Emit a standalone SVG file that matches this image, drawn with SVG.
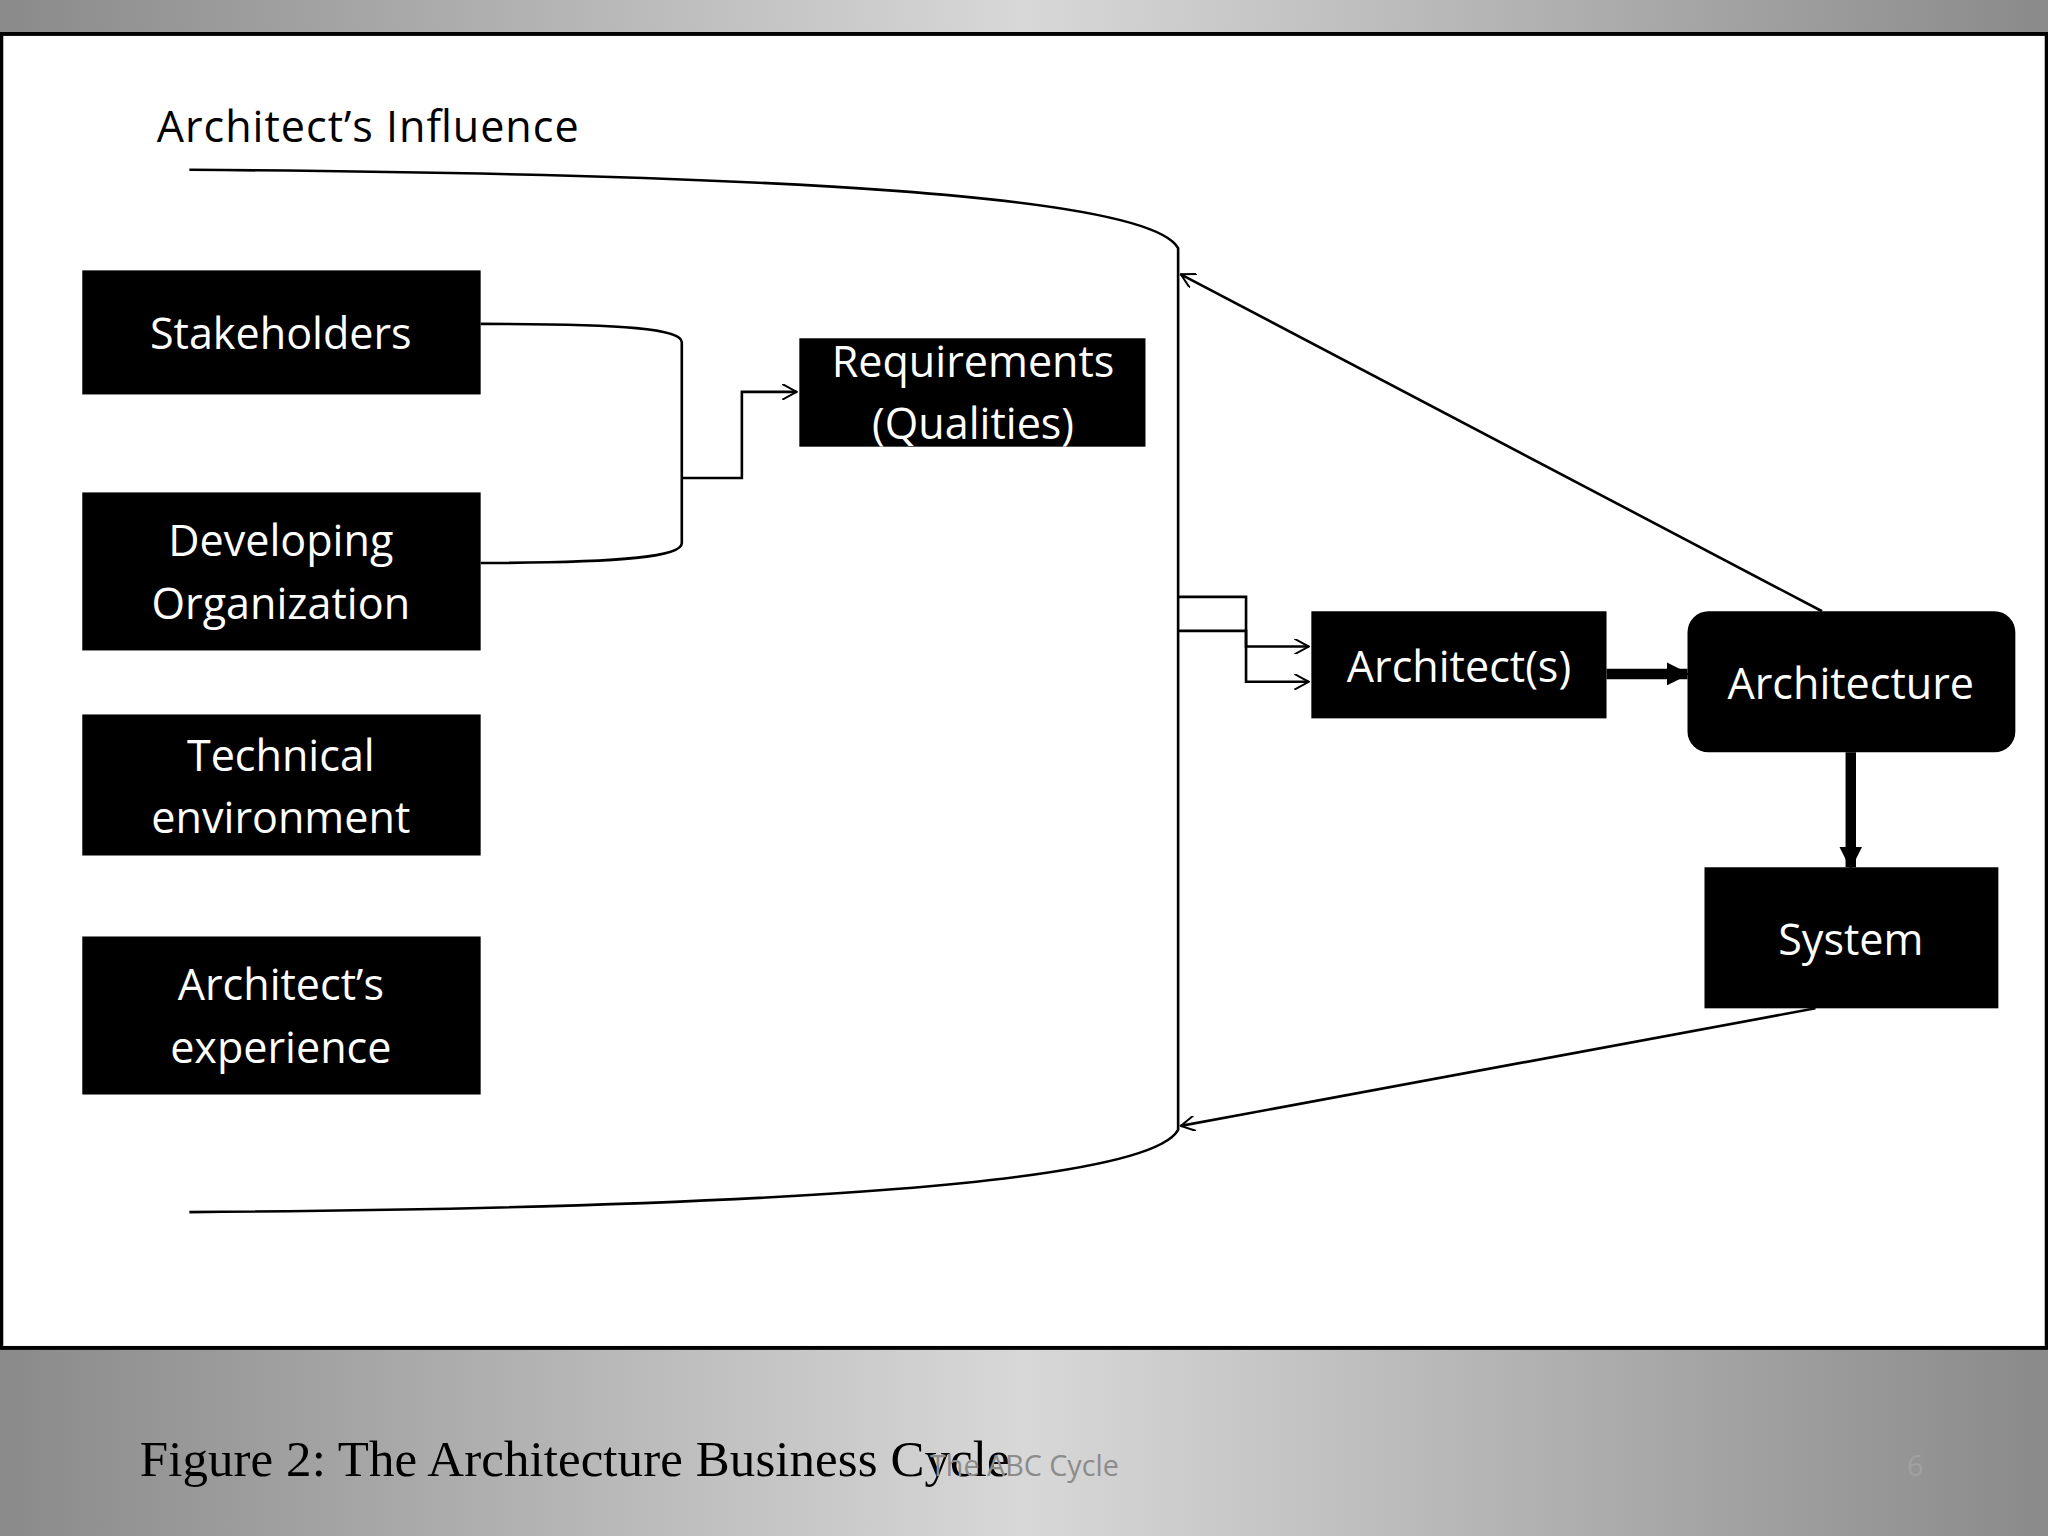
<svg xmlns="http://www.w3.org/2000/svg" width="2048" height="1536" viewBox="0 0 2048 1536">
<defs>
<linearGradient id="bg" x1="0" y1="0" x2="1" y2="0">
<stop offset="0" stop-color="#8a8a8a"/><stop offset="0.5" stop-color="#d8d8d8"/><stop offset="1" stop-color="#8a8a8a"/>
</linearGradient>
<marker id="open" viewBox="0 0 12 12" refX="11" refY="6" markerWidth="12" markerHeight="12" markerUnits="userSpaceOnUse" orient="auto">
<path d="M0,0 L11,6 L0,12" fill="none" stroke="#000" stroke-width="1.5"/>
</marker>
<marker id="solid" viewBox="0 0 10 10" refX="9" refY="5" markerWidth="2.2" markerHeight="2.2" orient="auto">
<path d="M0,0 L10,5 L0,10 Z" fill="#000"/>
</marker>
<style>
.box{fill:#000}
.t{font-family:"Open Sans","Liberation Sans",sans-serif;font-size:33px;fill:#fff;text-anchor:middle}
.c{fill:none;stroke:#000;stroke-width:2}
</style>
</defs>
<g transform="scale(1.30612)">
<rect x="0" y="0" width="1568" height="1176" fill="url(#bg)"/>
<rect x="1" y="26" width="1566" height="1006" fill="#fff" stroke="#000" stroke-width="3"/>
<text x="120" y="109" font-family="Open Sans, Liberation Sans, sans-serif" font-size="33" fill="#000" textLength="323">Architect’s Influence</text>
<g id="connectors">
<path class="c" d="M145,130 C600,133 880,150 902,190 L902,865 C880,905 600,925 145,928"/>
<path class="c" d="M368,248 C480,248 522,252 522,262 L522,416 C522,426 480,431 368,431"/>
<path class="c" d="M522,366 L568,366 L568,300 L610,300" marker-end="url(#open)"/>
<path class="c" d="M902,457 L954,457 L954,522 L1002,522" marker-end="url(#open)"/>
<path class="c" d="M902,483 L954,483 L954,495 L1002,495" marker-end="url(#open)"/>
<path class="c" d="M1395,468 L904,210" marker-end="url(#open)"/>
<path class="c" d="M1390,772 L904,862" marker-end="url(#open)"/>
<path d="M1230,516 L1292,516" stroke="#000" stroke-width="8" marker-end="url(#solid)"/>
<path d="M1417,576 L1417,664" stroke="#000" stroke-width="8" marker-end="url(#solid)"/>
</g>
<g id="stakeholders"><rect class="box" x="63" y="207" width="305" height="95"/><text class="t" x="215" y="267">Stakeholders</text></g>
<g id="devorg"><rect class="box" x="63" y="377" width="305" height="121"/><text class="t" x="215" y="426">Developing</text><text class="t" x="215" y="474">Organization</text></g>
<g id="techenv"><rect class="box" x="63" y="547" width="305" height="108"/><text class="t" x="215" y="590">Technical</text><text class="t" x="215" y="638">environment</text></g>
<g id="archexp"><rect class="box" x="63" y="717" width="305" height="121"/><text class="t" x="215" y="766">Architect’s</text><text class="t" x="215" y="814">experience</text></g>
<g id="requirements"><rect class="box" x="612" y="259" width="265" height="83"/><text class="t" x="745" y="289">Requirements</text><text class="t" x="745" y="336">(Qualities)</text></g>
<g id="architects"><rect class="box" x="1004" y="468" width="226" height="82"/><text class="t" x="1117" y="522">Architect(s)</text></g>
<g id="architecture"><rect class="box" x="1292" y="468" width="251" height="108" rx="16"/><text class="t" x="1417" y="535">Architecture</text></g>
<g id="system"><rect class="box" x="1305" y="664" width="225" height="108"/><text class="t" x="1417" y="731">System</text></g>
<text x="107" y="1130" font-family="Liberation Serif, serif" font-size="39" fill="#000" textLength="666">Figure 2: The Architecture Business Cycle</text>
<text x="712" y="1130" font-family="Open Sans, Liberation Sans, sans-serif" font-size="22" fill="#8c8c8c">The ABC Cycle</text>
<text x="1460" y="1130" font-family="Open Sans, Liberation Sans, sans-serif" font-size="22" fill="#a0a0a0">6</text>
</g>
</svg>
